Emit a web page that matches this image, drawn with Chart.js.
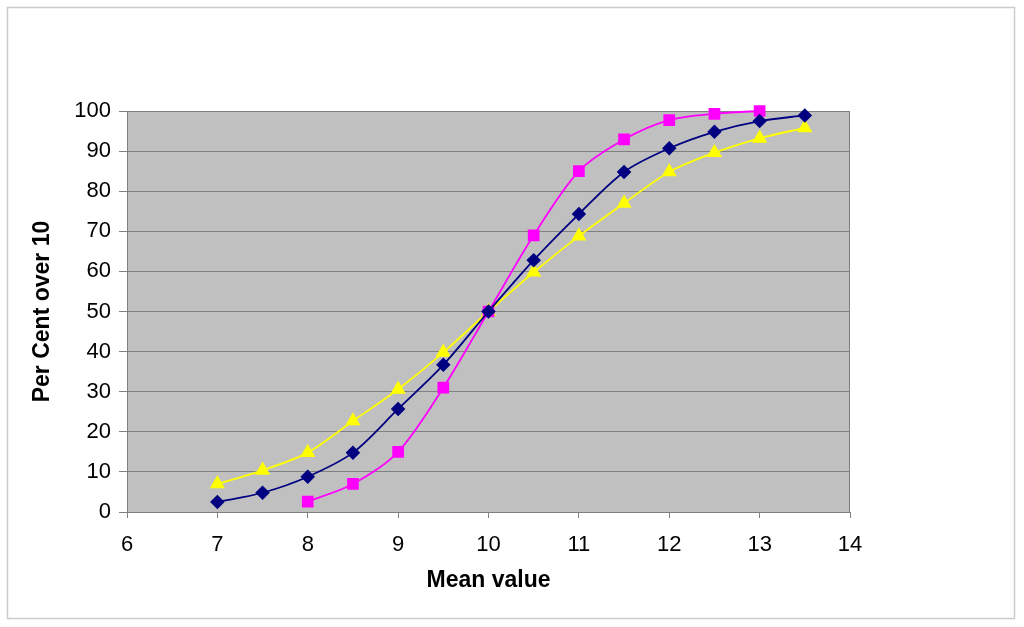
<!DOCTYPE html>
<html>
<head>
<meta charset="utf-8">
<script src="https://cdn.jsdelivr.net/npm/chart.js@4/dist/chart.umd.min.js"></script>
<style>
  html, body { margin: 0; padding: 0; background: #fff; }
  #wrap { width: 1024px; height: 627px; }
</style>
</head>
<body>
<div id="wrap"><canvas id="chart"></canvas></div>
<script>
// x positions (mean value) for each series
const meanFull = [7, 7.5, 8, 8.5, 9, 9.5, 10, 10.5, 11, 11.5, 12, 12.5, 13, 13.5];
const meanShort = [8, 8.5, 9, 9.5, 10, 10.5, 11, 11.5, 12, 12.5, 13];

// per cent over 10
const navyVals = [2.5, 4.8, 8.8, 14.8, 25.7, 36.7, 50, 62.8, 74.3, 84.8, 90.7, 94.8, 97.5, 98.9];
const magentaVals = [2.6, 7, 15, 31, 50, 69, 85, 92.9, 97.7, 99.3, 100];
const yellowVals = [7, 10.4, 14.8, 22.7, 30.6, 39.8, 50, 59.8, 68.8, 77, 84.8, 89.6, 93.2, 95.8];

const xTicks = [6, 14, 1];
const yTicks = [0, 100, 10];

function pairs(xs, ys) {
  return xs.map((x, i) => ({ x: x, y: ys[i] }));
}

// grey plot area, plot frame and the light outer border
const frame = {
  id: "frame",
  beforeDraw(chart) {
    const { ctx, chartArea: a } = chart;
    ctx.save();
    ctx.fillStyle = "#c0c0c0";
    ctx.fillRect(a.left, a.top, a.right - a.left, a.bottom - a.top);
    ctx.strokeStyle = "#cccccc";
    ctx.lineWidth = 1.5;
    ctx.strokeRect(7.5, 7.5, 1007, 611);
    ctx.restore();
  },
  beforeDatasetsDraw(chart) {
    const { ctx, chartArea: a } = chart;
    ctx.save();
    ctx.strokeStyle = "#808080";
    ctx.lineWidth = 1;
    ctx.strokeRect(a.left + 0.5, a.top + 0.5, a.right - a.left - 1, a.bottom - a.top);
    ctx.restore();
  },
};

const tickFont = { family: "'Liberation Sans', Arial, sans-serif", size: 22 };
const titleFont = { family: "'Liberation Sans', Arial, sans-serif", size: 23, weight: "bold" };

new Chart(document.getElementById("chart"), {
  type: "line",
  data: {
    datasets: [
      {
        label: "navy",
        data: pairs(meanFull, navyVals),
        borderColor: "#000080",
        backgroundColor: "#000080",
        pointStyle: "rectRot",
        pointRadius: 6,
        borderWidth: 1.8,
        tension: 0.3,
        clip: false,
      },
      {
        label: "magenta",
        data: pairs(meanShort, magentaVals),
        borderColor: "#ff00ff",
        backgroundColor: "#ff00ff",
        pointStyle: "rect",
        pointRadius: 7,
        borderWidth: 1.8,
        tension: 0.3,
        clip: false,
      },
      {
        label: "yellow",
        data: pairs(meanFull, yellowVals),
        borderColor: "#ffff00",
        backgroundColor: "#ffff00",
        pointStyle: "triangle",
        pointRadius: 7,
        borderWidth: 1.8,
        tension: 0.3,
        clip: false,
      },
    ],
  },
  options: {
    responsive: true,
    maintainAspectRatio: false,
    animation: false,
    layout: { padding: { left: 0, top: 111, right: 174, bottom: 0 } },
    plugins: { legend: { display: false }, tooltip: { enabled: false } },
    elements: { point: { borderWidth: 0, hoverRadius: 7 } },
    scales: {
      x: {
        type: "linear",
        min: xTicks[0],
        max: xTicks[1],
        afterFit(scale) { scale.height = 115; },
        ticks: { stepSize: xTicks[2], color: "#000", font: tickFont, padding: 14, maxRotation: 0 },
        grid: { drawOnChartArea: false, drawTicks: true, tickLength: 6, color: "#808080" },
        border: { color: "#808080" },
        title: {
          display: true,
          text: "Mean value",
          color: "#000",
          font: titleFont,
          padding: { top: 0, bottom: 33 },
        },
      },
      y: {
        min: yTicks[0],
        max: yTicks[1],
        afterFit(scale) { scale.width = 127; },
        ticks: { stepSize: yTicks[2], color: "#000", font: tickFont, padding: 8 },
        grid: { color: "#808080", tickLength: 8 },
        border: { color: "#808080" },
        title: {
          display: true,
          text: "Per Cent over 10",
          color: "#000",
          font: titleFont,
          padding: { top: 29, bottom: 0 },
        },
      },
    },
  },
  plugins: [frame],
});
</script>
</body>
</html>
